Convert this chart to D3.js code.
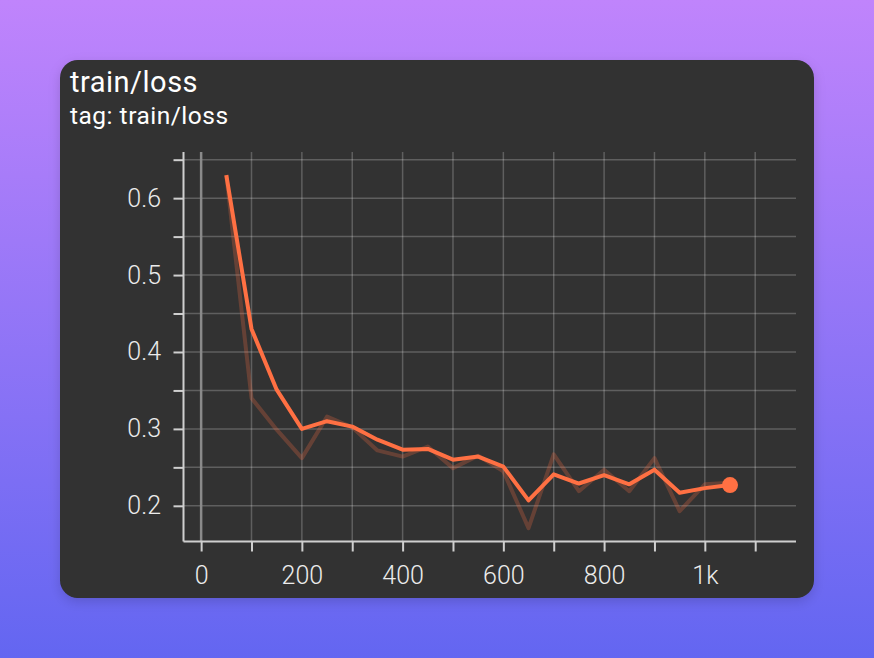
<!DOCTYPE html>
<html><head><meta charset="utf-8">
<script src="https://cdn.jsdelivr.net/npm/d3@7/dist/d3.min.js"></script>
<style>html,body{margin:0;padding:0;width:874px;height:658px;overflow:hidden;}</style>
</head><body><div id="chart"></div>
<script>
const steps = [50,100,150,200,250,300,350,400,450,500,550,600,650,700,750,800,850,900,950,1000,1050];
const smoothed = [0.630,0.430,0.351,0.300,0.310,0.303,0.286,0.273,0.274,0.260,0.264,0.251,0.207,0.241,0.229,0.240,0.228,0.247,0.217,0.223,0.227];
const raw = [0.630,0.340,0.299,0.262,0.316,0.302,0.272,0.264,0.277,0.249,0.265,0.245,0.171,0.267,0.219,0.247,0.219,0.262,0.193,0.228,0.230];
const yTickLabels = [0.2,0.3,0.4,0.5,0.6];
const xTickLabels = [0,200,400,600,800,1000];
const title = "train/loss";
const subtitle = "tag: train/loss";

const W=874,H=658;
const svg=d3.select("#chart").append("svg").attr("width",W).attr("height",H);
const defs=svg.append("defs");
const g=defs.append("linearGradient").attr("id","bg").attr("x1",0).attr("y1",0).attr("x2",0).attr("y2",1);
g.append("stop").attr("offset","0%").attr("stop-color","#c084fc");
g.append("stop").attr("offset","100%").attr("stop-color","#6366f1");
const f=defs.append("filter").attr("id","sh").attr("x","-10%").attr("y","-10%").attr("width","120%").attr("height","130%");
f.append("feDropShadow").attr("dx",0).attr("dy",4).attr("stdDeviation",6).attr("flood-color","#000").attr("flood-opacity",0.15);
svg.append("rect").attr("width",W).attr("height",H).attr("fill","url(#bg)");
svg.append("rect").attr("x",60).attr("y",60).attr("width",754).attr("height",538).attr("rx",18).attr("fill","#303030").attr("filter","url(#sh)");

svg.append("text").attr("x",70).attr("y",91.5).attr("fill","#fff").attr("font-family","Roboto, sans-serif").attr("font-size",29).attr("letter-spacing",0.5).text(title);
svg.append("text").attr("x",70).attr("y",124).attr("fill","#fff").attr("font-family","Roboto, sans-serif").attr("font-size",24.5).attr("letter-spacing",0.5).text(subtitle);

const x=d3.scaleLinear().domain([-35,1181]).range([183.5,796]);
const y=d3.scaleLinear().domain([0.1536,0.66]).range([541.5,152]);

// grid
const hGrid=d3.range(0.2,0.651,0.05);
svg.append("g").selectAll("line").data(hGrid).join("line")
  .attr("x1",183.5).attr("x2",796).attr("y1",d=>y(d)).attr("y2",d=>y(d))
  .attr("stroke","rgba(255,255,255,0.22)").attr("stroke-width",1.5);
const vGrid=d3.range(100,1101,100);
svg.append("g").selectAll("line").data(vGrid).join("line")
  .attr("x1",d=>x(d)).attr("x2",d=>x(d)).attr("y1",152).attr("y2",541.5)
  .attr("stroke","rgba(255,255,255,0.22)").attr("stroke-width",1.5);
svg.append("line").attr("x1",x(0)).attr("x2",x(0)).attr("y1",152).attr("y2",541.5)
  .attr("stroke","#8a8a8a").attr("stroke-width",2.5);

// axes
const yAxis=d3.axisLeft(y).tickValues(hGrid).tickSize(10).tickFormat(d=>yTickLabels.some(v=>Math.abs(v-d)<1e-6)?d3.format(".1f")(d):"");
const ya=svg.append("g").attr("transform","translate(183.5,0)").call(yAxis);
ya.select(".domain").attr("stroke","#cfcfcf").attr("stroke-width",2).attr("d","M0,152V541.5");
ya.selectAll(".tick line").attr("stroke","#cfcfcf").attr("stroke-width",2);
ya.selectAll(".tick text").attr("fill","#ececec").attr("font-family","Roboto, sans-serif").attr("font-weight",300).attr("font-size",25).attr("x",-22.5);

const xAxis=d3.axisBottom(x).tickValues(d3.range(0,1101,100)).tickSize(10).tickFormat(d=>xTickLabels.includes(d)?(d>=1000?(d/1000)+"k":d):"");
const xa=svg.append("g").attr("transform","translate(0,541.5)").call(xAxis);
xa.select(".domain").attr("stroke","#cfcfcf").attr("stroke-width",2).attr("d","M183.5,0H796");
xa.selectAll(".tick line").attr("stroke","#cfcfcf").attr("stroke-width",2);
xa.selectAll(".tick text").attr("fill","#ececec").attr("font-family","Roboto, sans-serif").attr("font-weight",300).attr("font-size",25).attr("y",24.5);

const line=d3.line().x((d,i)=>x(steps[i])).y(d=>y(d));
svg.append("path").attr("d",line(raw)).attr("fill","none").attr("stroke","#ff7043").attr("stroke-opacity",0.25).attr("stroke-width",4).attr("stroke-linejoin","round");
svg.append("path").attr("d",line(smoothed)).attr("fill","none").attr("stroke","#ff7043").attr("stroke-width",4).attr("stroke-linejoin","round");
svg.append("circle").attr("cx",x(steps[steps.length-1])).attr("cy",y(smoothed[smoothed.length-1])).attr("r",8).attr("fill","#ff7043");
</script></body></html>
